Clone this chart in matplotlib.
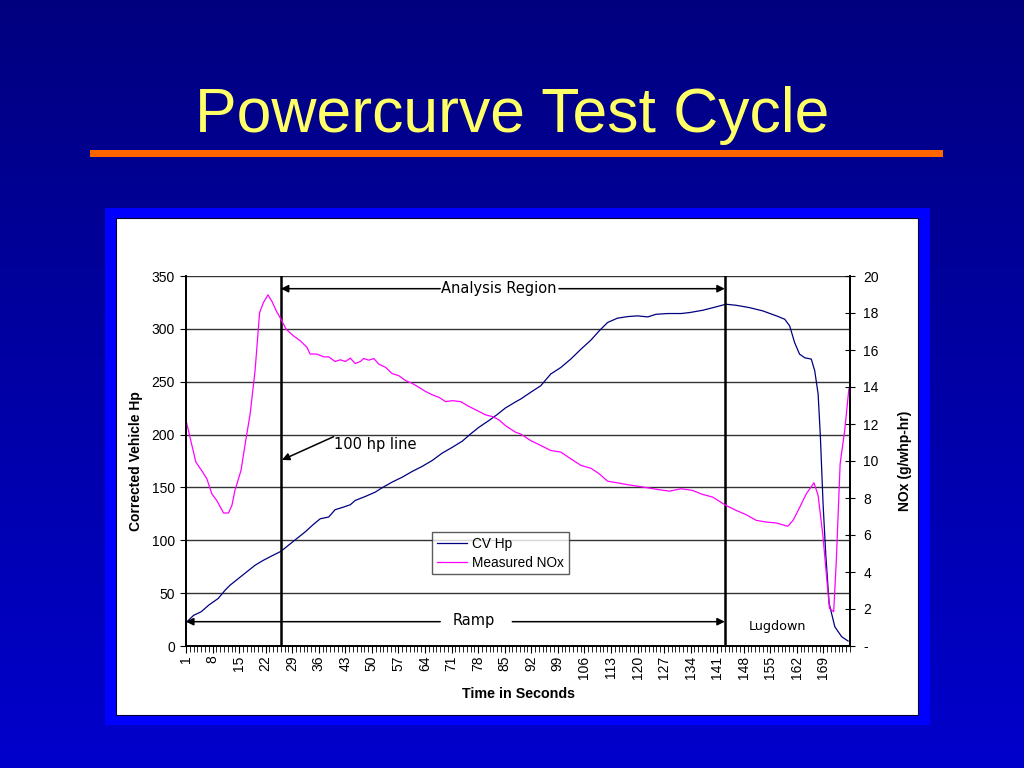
import matplotlib.pyplot as plt
import matplotlib.patches as patches
import numpy as np

# readings taken off the chart: time [s] -> value
hp_time = [1, 3, 5, 7, 9.5, 11.3, 12.6, 14.8, 17, 19.2, 21.4, 23.6, 26, 28, 30.2, 32.4,
           34.6, 36.4, 38.6, 40.3, 42.5, 44.3, 45.6, 48.3, 50.9, 52.7, 55.3, 58, 60.6,
           63.2, 65.9, 68.5, 71.2, 73.8, 76, 78.2, 80.8, 83, 85.2, 87.9, 89.2, 91.8, 94.5,
           97.1, 99.8, 102.4, 105.1, 107.7, 109.9, 112.1, 114.7, 117.4, 120, 122.7, 124.9,
           128, 131.5, 133.7, 137.2, 140.7, 143.3, 146, 149.5, 153, 156.6, 158.8, 160.1,
           161.4, 162.7, 164.1, 165.8, 166.7, 167.6, 168.2, 168.9, 169.6, 170.5, 172,
           173.8, 175.5]
hp_vals = [22, 29, 32.4, 38.7, 45, 52.8, 57.5, 63.8, 70.1, 76.4, 81.1, 85.2, 89.5, 95.3,
           101.6, 107.9, 115.1, 120.4, 122, 128.9, 131.4, 133.6, 137.7, 141.5, 145.6,
           149.7, 155, 159.7, 165.1, 169.8, 175.5, 182.4, 188, 193.7, 200.6, 206.9, 213.2,
           218.9, 225.2, 231, 233.6, 239.9, 246.2, 257.2, 263.5, 271.4, 280.8, 289.3,
           298.1, 306, 310.1, 311.6, 312.3, 311.3, 313.8, 314.5, 314.5, 315.4, 317.6,
           320.8, 323.3, 322.3, 320.1, 317, 312.3, 309.1, 302.8, 287.1, 276.1, 272.6,
           271.4, 260.4, 238.4, 197.5, 134.6, 87.4, 40.3, 18.2, 8.8, 4.7]

nox_time = [1, 3.6, 5.1, 6.5, 7.8, 9.1, 10.9, 12.2, 13.1, 13.9, 15.5, 16.6, 17.9, 19.2,
            20.4, 21.4, 22.6, 23.6, 24.8, 25.8, 27.4, 29.3, 31.1, 32.9, 33.7, 35.5, 37.3,
            38.6, 40.3, 41.7, 43, 44.3, 45.6, 47, 47.8, 49.2, 50.5, 51.8, 53.6, 55.3,
            57.1, 58.9, 60.6, 62.4, 64.1, 65.9, 67.7, 69.4, 71.2, 73.4, 75.2, 77.4, 80,
            81.8, 83.5, 85.2, 87.9, 89.2, 91.8, 94.5, 97.1, 99.8, 102.4, 105.1, 107.7,
            109.9, 112.1, 114.7, 117.4, 120, 122.7, 125.3, 128.4, 131.5, 134.5, 137.2,
            139.8, 143.3, 146, 148.6, 151.3, 153.9, 156.6, 159.6, 161, 162.7, 164.5,
            166.5, 167.6, 168.9, 169.9, 170.6, 171.7, 172.4, 173.4, 174.6, 175.7]
nox_vals = [12.2, 9.94, 9.49, 9.04, 8.23, 7.87, 7.19, 7.19, 7.6, 8.41, 9.49, 10.93, 12.54,
            14.88, 18.02, 18.56, 18.98, 18.65, 18.11, 17.75, 17.12, 16.77, 16.5, 16.14,
            15.78, 15.78, 15.63, 15.63, 15.38, 15.47, 15.38, 15.56, 15.27, 15.38, 15.54,
            15.45, 15.54, 15.24, 15.06, 14.73, 14.61, 14.34, 14.2, 13.98, 13.76, 13.58,
            13.44, 13.21, 13.26, 13.21, 12.99, 12.76, 12.49, 12.4, 12.22, 11.91, 11.55,
            11.46, 11.11, 10.84, 10.57, 10.48, 10.12, 9.76, 9.61, 9.31, 8.91, 8.82, 8.72,
            8.64, 8.55, 8.46, 8.37, 8.5, 8.41, 8.19, 8.05, 7.6, 7.33, 7.1, 6.79, 6.7, 6.65,
            6.47, 6.79, 7.48, 8.23, 8.82, 8.14, 5.89, 3.56, 2.03, 1.85, 4.64, 9.85, 11.64,
            13.89]

n_sec = 176
ramp_end = 26
lug_start = 143
tick_secs = list(range(1, 170, 7))

fig = plt.figure(figsize=(10.24, 7.68), dpi=100)

# slide background: dark to lighter blue
bg = fig.add_axes([0, 0, 1, 1], zorder=-10)
grad = np.linspace(0, 1, 256).reshape(-1, 1)
top = np.array([0.0, 0.0, 0.50])
bot = np.array([0.0, 0.0, 0.80])
img = top + (bot - top) * grad[:, :, None]
bg.imshow(img, aspect='auto', extent=[0, 1, 0, 1], origin='upper')
bg.set_xlim(0, 1)
bg.set_ylim(0, 1)
bg.axis('off')

fig.text(0.5, 1 - 132 / 768, "Powercurve Test Cycle", color='#FFFF66', fontsize=45,
         family='Liberation Sans', ha='center', va='baseline')
bg.add_patch(patches.Rectangle((90 / 1024, 1 - 157 / 768), 853 / 1024, 7 / 768,
                               color='#FF6600', lw=0))
# chart frame
bg.add_patch(patches.Rectangle((105 / 1024, 1 - 725 / 768), 825 / 1024, 517 / 768,
                               color='#0000FF', lw=0))
bg.add_patch(patches.Rectangle((116 / 1024, 1 - 715 / 768), 802 / 1024, 497 / 768,
                               facecolor='white', edgecolor='#000033', lw=0.8))

ax = fig.add_axes([186 / 1024, 1 - 646 / 768, 664 / 1024, 370 / 768])
ax2 = ax.twinx()

ax.plot(hp_time, hp_vals, color='#000080', lw=0.9, label='CV Hp')
ax2.plot(nox_time, nox_vals, color='#FF00FF', lw=0.9, label='Measured NOx')

ax.set_xlim(1, n_sec)
ax.set_ylim(0, 350)
ax2.set_ylim(0, 20)
ax.set_yticks(range(0, 351, 50))
ax2.set_yticks(range(0, 21, 2))
ax2.set_yticklabels(['-'] + [str(v) for v in range(2, 21, 2)])
ax.set_xticks(tick_secs)
ax.set_xticks(range(1, n_sec + 1), minor=True)
ax.set_xticklabels([str(t) for t in tick_secs], rotation=90)

ax.grid(axis='y', color='#333333', lw=1)
ax.set_axisbelow(True)
ax.spines['top'].set_visible(False)
ax2.spines['top'].set_visible(False)
for a in (ax, ax2):
    for sp in a.spines.values():
        sp.set_linewidth(1.3)

ax.tick_params(axis='y', direction='out', length=4, labelsize=10, pad=4)
ax.tick_params(axis='x', which='major', direction='out', length=5, labelsize=10, pad=2)
ax.tick_params(axis='x', which='minor', direction='out', length=4, width=0.6)
ax2.tick_params(axis='y', direction='inout', length=7, labelsize=10, pad=6)
for lab in ax.get_xticklabels() + ax.get_yticklabels() + ax2.get_yticklabels():
    lab.set_fontfamily('Liberation Sans')

ax.axvline(ramp_end, color='black', lw=1.8)
ax.axvline(lug_start, color='black', lw=1.8)

ax.set_ylabel("Corrected Vehicle Hp", fontsize=10, fontweight='bold',
              family='Liberation Sans', labelpad=6)
ax2.set_ylabel("NOx (g/whp-hr)", fontsize=10, fontweight='bold',
               family='Liberation Sans', labelpad=14)
ax.set_xlabel("Time in Seconds", fontsize=10.3, fontweight='bold',
              family='Liberation Sans', labelpad=6)

arrow = dict(arrowstyle='-|>', color='black', lw=1.1, mutation_scale=11,
             shrinkA=0, shrinkB=0)
note_font = dict(family='DejaVu Sans', size=10.5)

ax.text(83.4, 338, "Analysis Region", ha='center', va='center', **note_font)
ax.annotate("", xy=(ramp_end, 338), xytext=(68, 338), arrowprops=arrow)
ax.annotate("", xy=(lug_start, 338), xytext=(99.3, 338), arrowprops=arrow)

ax.text(40, 191, "100 hp line", ha='left', va='center', **note_font)
ax.annotate("", xy=(ramp_end + 0.3, 176), xytext=(39.9, 198), arrowprops=arrow)

ax.text(76.8, 24, "Ramp", ha='center', va='center', **note_font)
ax.annotate("", xy=(1, 23), xytext=(68, 23), arrowprops=arrow)
ax.annotate("", xy=(lug_start, 23), xytext=(87, 23), arrowprops=arrow)

ax.text(157, 18, "Lugdown", ha='center', va='center', family='DejaVu Sans', size=9.2)

h1, l1 = ax.get_legend_handles_labels()
h2, l2 = ax2.get_legend_handles_labels()
leg = ax.legend(h1 + h2, l1 + l2, loc='upper left', bbox_to_anchor=(0.371, 0.308),
                frameon=True, fancybox=False, edgecolor='#333333',
                prop={'family': 'Liberation Sans', 'size': 9.8}, handlelength=2.2,
                handletextpad=0.4, borderpad=0.35, labelspacing=0.35, borderaxespad=0)
leg.get_frame().set_linewidth(1.0)
leg.set_zorder(5)

fig.savefig("out.png", dpi=100)
